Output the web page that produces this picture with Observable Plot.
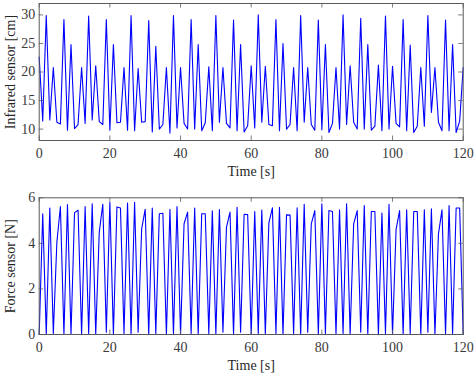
<!DOCTYPE html>
<html>
<head>
<meta charset="utf-8">
<script src="https://cdn.jsdelivr.net/npm/d3@7"></script>
<script src="https://cdn.jsdelivr.net/npm/@observablehq/plot@0.6"></script>
<style>
  html, body { margin: 0; padding: 0; background: #fff; width: 474px; height: 375px; overflow: hidden; }
  svg { display: block; }
</style>
</head>
<body>
<div id="chart"></div>
<script>
// Sample times [s]
const time = d3.range(0, 121);

// Infrared sensor [cm]
const infrared = [
  22.6, 11.4, 29.9, 11.6, 20.8, 11.2, 10.9, 29.2, 9.8, 24.8,
  10.1, 10.8, 20.8, 11.0, 29.8, 11.6, 21.1, 11.3, 10.8, 29.2,
  9.8, 24.8, 11.1, 11.2, 20.8, 9.8, 29.9, 9.7, 20.6, 11.2,
  11.3, 29.0, 9.5, 24.5, 10.0, 10.8, 20.8, 9.3, 29.9, 10.2,
  20.8, 11.0, 10.0, 29.2, 10.0, 24.8, 9.7, 11.1, 20.9, 9.7,
  29.9, 11.2, 20.8, 11.0, 10.2, 29.1, 9.7, 24.8, 9.5, 10.6,
  21.1, 10.2, 30.0, 11.2, 21.0, 10.8, 10.6, 29.2, 9.7, 25.0,
  10.0, 10.8, 20.8, 9.7, 29.9, 11.2, 20.8, 10.8, 9.8, 29.1,
  9.9, 24.8, 9.4, 11.0, 20.8, 10.0, 30.0, 10.8, 21.1, 11.2,
  10.0, 29.4, 10.0, 24.8, 9.8, 10.5, 21.2, 9.7, 29.8, 10.0,
  21.0, 11.0, 10.4, 29.2, 9.7, 24.7, 9.4, 10.5, 20.8, 10.5,
  29.9, 12.9, 20.8, 11.2, 9.7, 29.1, 9.7, 24.8, 9.4, 11.4, 20.8
];

// Force sensor [N]
const force = [
  0, 5.3, 0, 5.55, 0.05, 4.05, 5.62, 0, 5.7, 0,
  5.35, 5.45, 0, 5.62, 0.05, 5.74, 0, 4.5, 5.72, 0.1,
  5.8, 0, 5.6, 5.55, 0.05, 5.77, 0, 5.8, 0.1, 4.64,
  5.5, 0, 5.55, 0.05, 5.3, 5.32, 0, 5.5, 0, 5.62,
  0, 4.86, 5.37, 0.05, 5.55, 0, 5.3, 5.3, 0.05, 5.43,
  0, 5.48, 0.1, 4.7, 5.37, 0, 5.58, 0.1, 5.28, 5.26,
  0, 5.4, 0.05, 5.46, 0, 4.9, 5.56, 0.05, 5.58, 0,
  5.25, 5.24, 0.05, 5.56, 0, 5.72, 0.1, 4.86, 5.44, 0,
  5.74, 0.05, 5.44, 5.4, 0, 5.47, 0.05, 5.74, 0, 4.86,
  5.44, 0.1, 5.66, 0, 5.4, 5.4, 0, 5.33, 0.05, 5.71,
  0, 4.6, 5.44, 0, 5.47, 0.05, 5.4, 5.4, 0, 5.47,
  0.1, 5.52, 0, 4.42, 5.47, 0, 5.66, 0.05, 5.55, 5.55, 0
];

// Tick labels
const xTicks = [0, 20, 40, 60, 80, 100, 120];
const irTicks = [10, 15, 20, 25, 30];
const forceTicks = [0, 2, 4, 6];

const xLabel = "Time [s]";
const irLabel = "Infrared sensor [cm]";
const forceLabel = "Force sensor [N]";

const W = 474;
const ML = 38.7, MR = 11.3;
const frameColor = "#5a5a5a";
const textColor = "#262626";
const lineColor = "#0000ff";
const font = "'Liberation Serif', 'Times New Roman', serif";
const tickLen = 4.5;

function panel({values, yDomain, yTicks, yLabel, height, marginTop, marginBottom}) {
  const data = time.map((t, i) => ({t, v: values[i]}));
  const fw = W - ML - MR;
  const fh = height - marginTop - marginBottom;
  return Plot.plot({
    width: W,
    height,
    marginLeft: ML,
    marginRight: MR,
    marginTop,
    marginBottom,
    style: {fontFamily: font, fontSize: "14px", color: textColor, background: "white", overflow: "visible"},
    x: {domain: [0, 120], axis: null},
    y: {domain: yDomain, axis: null},
    marks: [
      Plot.line(data, {x: "t", y: "v", stroke: lineColor, strokeWidth: 1.1}),
      // inward ticks on all four sides
      Plot.tickX(xTicks, {x: d => d, insetTop: fh - tickLen, stroke: frameColor, strokeWidth: 0.8}),
      Plot.tickX(xTicks, {x: d => d, insetBottom: fh - tickLen, stroke: frameColor, strokeWidth: 0.8}),
      Plot.tickY(yTicks, {y: d => d, insetRight: fw - tickLen, stroke: frameColor, strokeWidth: 0.8}),
      Plot.tickY(yTicks, {y: d => d, insetLeft: fw - tickLen, stroke: frameColor, strokeWidth: 0.8}),
      Plot.frame({stroke: frameColor, strokeWidth: 1}),
      // tick labels
      Plot.text(xTicks, {x: d => d, frameAnchor: "bottom", dy: 13.5, textAnchor: "middle", lineAnchor: "middle", fill: "#3a3a3a", fontSize: 14}),
      Plot.text(yTicks, {y: d => d, frameAnchor: "left", dx: -4, textAnchor: "end", lineAnchor: "middle", fill: "#3a3a3a", fontSize: 14}),
      // axis labels
      Plot.text([xLabel], {frameAnchor: "bottom", dy: 31.5, textAnchor: "middle", lineAnchor: "middle", fill: textColor, fontSize: 14}),
      Plot.text([yLabel], {frameAnchor: "left", dx: -28.5, rotate: -90, textAnchor: "middle", lineAnchor: "middle", fill: textColor, fontSize: 14})
    ]
  });
}

const topPanel = panel({
  values: infrared, yDomain: [8, 32], yTicks: irTicks, yLabel: irLabel,
  height: 180, marginTop: 3, marginBottom: 40
});
const bottomPanel = panel({
  values: force, yDomain: [0, 6], yTicks: forceTicks, yLabel: forceLabel,
  height: 195, marginTop: 17.3, marginBottom: 41
});

const chart = document.getElementById("chart");
chart.appendChild(topPanel);
chart.appendChild(bottomPanel);
</script>
</body>
</html>
